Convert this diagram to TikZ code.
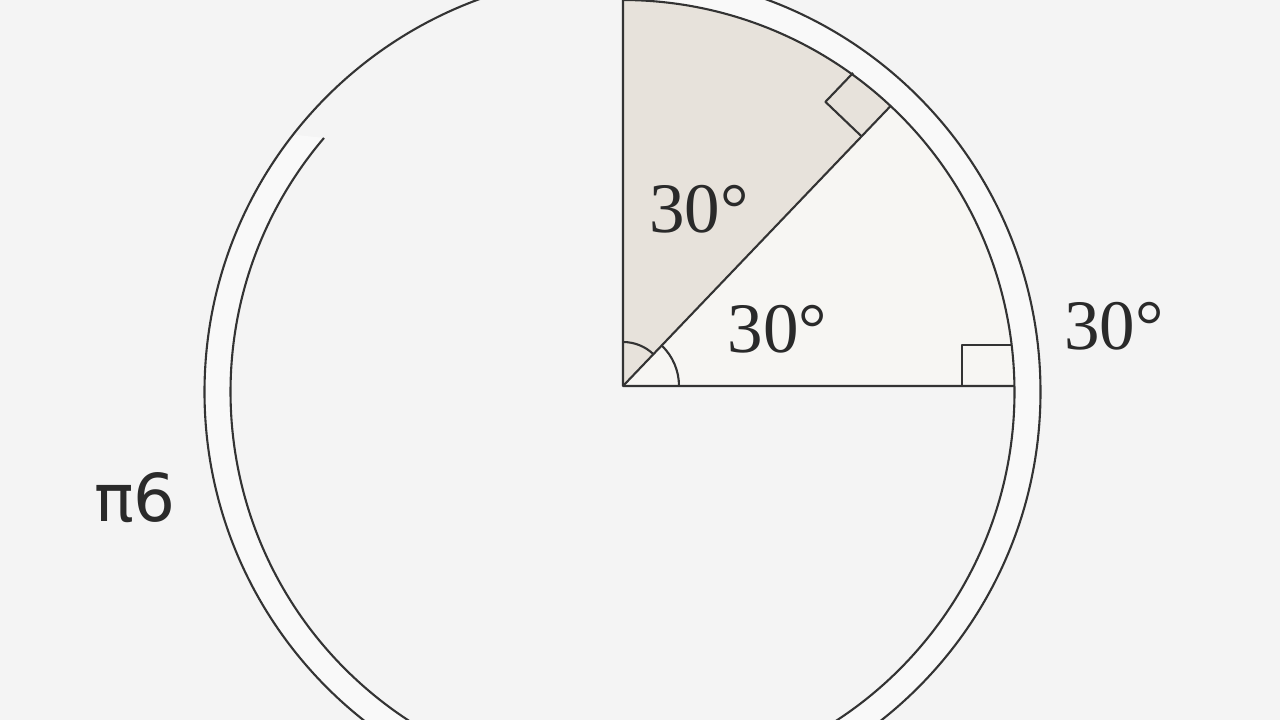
\documentclass[tikz,border=0pt]{standalone}
\usepackage{fontspec}
\setmainfont{Liberation Serif}
\newfontfamily\pifont{DejaVu Sans}
\usetikzlibrary{calc}
\definecolor{bgcol}{HTML}{F4F4F4}
\definecolor{bandcol}{HTML}{F9F9F9}
\definecolor{sectorcol}{HTML}{E7E2DB}
\definecolor{lightcol}{HTML}{F7F6F3}
\definecolor{inkcol}{HTML}{333333}
\definecolor{txtcol}{HTML}{2A2A2A}
\tikzset{
  ln/.style={draw=inkcol, line width=2.1pt},
  deg/.style={inner sep=0pt, anchor=base, text=txtcol, font=\fontsize{71}{71}\selectfont},
  pilabel/.style={inner sep=0pt, anchor=base, text=txtcol, font=\pifont\fontsize{66}{66}\selectfont}
}
\begin{document}
\begin{tikzpicture}[x=1pt,y=1pt,line join=round]
\useasboundingbox (0,0) rectangle (1280,720);
\clip (0,0) rectangle (1280,720);
\fill[bgcol] (0,0) rectangle (1280,720);
\coordinate (C0) at (622.5,328);
\coordinate (O) at (623,334);
\coordinate (T) at ($(C0)+(89.93:392)$);
\coordinate (P) at ($(C0)+(46.85:392)$);
\coordinate (E) at ($(C0)+(0.88:392)$);
\coordinate (S) at ($(C0)+(139.6:392)$);
\coordinate (So) at ($(C0)+(142:418)$);
% fills
\fill[bandcol] (So) arc[start angle=142,end angle=449.93,radius=418]
  -- (T) arc[start angle=449.93,end angle=139.6,radius=392] -- cycle;
\fill[lightcol] (O) -- (E) arc[start angle=0.88,end angle=46.85,radius=392] -- cycle;
\fill[sectorcol] (O) -- (P) arc[start angle=46.85,end angle=89.93,radius=392] -- cycle;
% circles
\draw[ln] (C0) circle[radius=418];
\draw[ln] (S) arc[start angle=139.6,end angle=449.93,radius=392];
% radii
\draw[ln] (T) -- (O) -- (E);
\draw[ln] (O) -- (P);
% right angle marks
\coordinate (Rc) at ($(P)+(226.3:42)$);
\coordinate (Rb) at ($(Rc)+(136.3:50)$);
\coordinate (Ra) at ($(Rb)+(46.3:40)$);
\draw[ln] (Rc) -- (Rb) -- (Ra);
\coordinate (Q1) at (962,334);
\coordinate (Q2) at (962,375);
\coordinate (Q3) at (1011.7,375);
\draw[ln] (Q1) -- (Q2) -- (Q3);
% angle arcs
\draw[ln] ($(O)+(90:44)$) arc[start angle=90,end angle=46.3,radius=44];
\draw[ln] ($(O)+(46.3:56)$) arc[start angle=46.3,end angle=0,radius=56];
% labels
\node[deg] (a1) at (699,487) {30°};
\node[deg] (a2) at (777.5,367) {30°};
\node[deg] (a3) at (1114,370) {30°};
\node[pilabel] (pi) at (135,198) {π6};
\end{tikzpicture}
\end{document}
